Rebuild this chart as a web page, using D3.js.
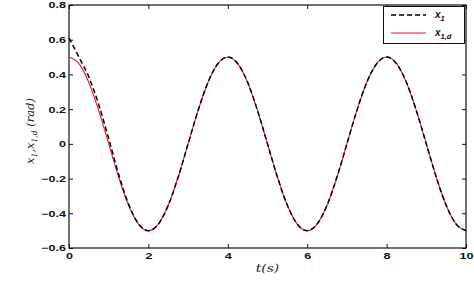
<!DOCTYPE html>
<html>
<head>
<meta charset="utf-8">
<script src="https://cdn.jsdelivr.net/npm/d3@7"></script>
<style>
	body { margin: 0; background: #fff; }
	svg { display: block; }
</style>
</head>
<body>
<div id="chart"></div>
<script>
// time samples (s)
const time = [0, 0.25, 0.5, 0.75, 1, 1.25, 1.5, 1.75, 2, 2.25, 2.5, 2.75, 3, 3.25, 3.5, 3.75,
	4, 4.25, 4.5, 4.75, 5, 5.25, 5.5, 5.75, 6, 6.25, 6.5, 6.75, 7, 7.25, 7.5, 7.75,
	8, 8.25, 8.5, 8.75, 9, 9.25, 9.5, 9.75, 10];
// desired trajectory x_{1,d}
const x1d = [0.5, 0.462, 0.354, 0.191, 0, -0.191, -0.354, -0.462, -0.5, -0.462, -0.354, -0.191, 0, 0.191, 0.354, 0.462,
	0.5, 0.462, 0.354, 0.191, 0, -0.191, -0.354, -0.462, -0.5, -0.462, -0.354, -0.191, 0, 0.191, 0.354, 0.462,
	0.5, 0.462, 0.354, 0.191, 0, -0.191, -0.354, -0.462, -0.5];
// actual state x_1
const x1 = [0.61, 0.5, 0.385, 0.225, 0.03, -0.175, -0.347, -0.46, -0.5, -0.462, -0.354, -0.191, 0, 0.191, 0.354, 0.462,
	0.5, 0.462, 0.354, 0.191, 0, -0.191, -0.354, -0.462, -0.5, -0.462, -0.354, -0.191, 0, 0.191, 0.354, 0.462,
	0.5, 0.462, 0.354, 0.191, 0, -0.191, -0.354, -0.462, -0.5];
const xTicks = [0, 2, 4, 6, 8, 10];
const yTicks = [-0.6, -0.4, -0.2, 0, 0.2, 0.4, 0.6, 0.8];

const width = 474, height = 296;
const margin = {left: 69, right: 8, top: 5, bottom: 48};

const svg = d3.select("#chart").append("svg")
	.attr("width", width)
	.attr("height", height);

const x = d3.scaleLinear().domain([0, 10]).range([margin.left, width - margin.right]);
const y = d3.scaleLinear().domain([-0.6, 0.8]).range([height - margin.bottom, margin.top]);

// stretch tick text horizontally around its anchor, like the source figure
function stretch(sel, ax, sx) {
	sel.selectAll(".tick text")
		.attr("font-family", "'Liberation Sans', Arial, sans-serif")
		.attr("font-weight", "bold")
		.attr("font-size", 9)
		.attr("fill", "#111")
		.attr("transform", `translate(${ax},0) scale(${sx},1) translate(${-ax},0)`);
}

const gx = svg.append("g")
	.attr("transform", `translate(0,${y(-0.6)})`)
	.call(d3.axisBottom(x).tickValues(xTicks).tickSize(-4).tickSizeOuter(0).tickPadding(5).tickFormat(d3.format("d")));
stretch(gx, 0, 1.4);

const gy = svg.append("g")
	.attr("transform", `translate(${x(0)},0)`)
	.call(d3.axisLeft(y).tickValues(yTicks).tickSize(-4).tickSizeOuter(0).tickPadding(3)
		.tickFormat(d => d === 0 ? "0" : d3.format(".1f")(d).replace("-", "\u2212")));
stretch(gy, -3, 1.4);

svg.append("g")
	.attr("transform", `translate(0,${y(0.8)})`)
	.call(d3.axisTop(x).tickValues(xTicks).tickSize(-4).tickSizeOuter(0).tickFormat(""));
svg.append("g")
	.attr("transform", `translate(${x(10)},0)`)
	.call(d3.axisRight(y).tickValues(yTicks).tickSize(-4).tickSizeOuter(0).tickFormat(""));

svg.selectAll(".domain").remove();
svg.selectAll(".tick line").attr("stroke", "#111");

svg.append("rect")
	.attr("x", x(0)).attr("y", y(0.8))
	.attr("width", x(10) - x(0)).attr("height", y(-0.6) - y(0.8))
	.attr("fill", "none").attr("stroke", "#111").attr("stroke-width", 1.2);

const line = d3.line()
	.x((d, i) => x(time[i]))
	.y(d => y(d))
	.curve(d3.curveMonotoneX);

svg.append("path")
	.datum(x1d)
	.attr("d", line)
	.attr("fill", "none")
	.attr("stroke", "#f0142e")
	.attr("stroke-width", 1.1);

svg.append("path")
	.datum(x1)
	.attr("d", line)
	.attr("fill", "none")
	.attr("stroke", "#000")
	.attr("stroke-width", 1.5)
	.attr("stroke-dasharray", "5,3");

// axis labels
svg.append("text")
	.attr("transform", `translate(${x(5)},${272}) scale(1.25,1)`)
	.attr("text-anchor", "middle")
	.attr("font-family", "'DejaVu Serif', serif")
	.attr("font-style", "italic")
	.attr("font-size", 11)
	.attr("fill", "#222")
	.text("t(s)");

const yl = svg.append("text")
	.attr("transform", `translate(34,131) rotate(-90)`)
	.attr("text-anchor", "middle")
	.attr("font-family", "'DejaVu Serif', serif")
	.attr("font-style", "italic")
	.attr("font-size", 11.5)
	.attr("fill", "#222");
yl.append("tspan").text("x");
yl.append("tspan").attr("font-size", 7.5).attr("dy", 3).text("1");
yl.append("tspan").attr("dy", -3).text(",x");
yl.append("tspan").attr("font-size", 7.5).attr("dy", 3).text("1,d");
yl.append("tspan").attr("dy", -3).text("  (rad)");

// legend
const legend = svg.append("g");
legend.append("rect")
	.attr("x", 383.5).attr("y", 6.5).attr("width", 81).attr("height", 37)
	.attr("fill", "#fff").attr("stroke", "#111").attr("stroke-width", 1);

const items = [
	{label: "1", color: "#000", dash: "5,3", w: 1.5},
	{label: "1,d", color: "#f0142e", dash: null, w: 1.1}
];
items.forEach((it, i) => {
	const cy = 15 + i * 18;
	legend.append("line")
		.attr("x1", 391).attr("x2", 426).attr("y1", cy).attr("y2", cy)
		.attr("stroke", it.color).attr("stroke-width", it.w)
		.attr("stroke-dasharray", it.dash);
	const t = legend.append("text")
		.attr("x", 435).attr("y", cy + 3)
		.attr("font-family", "'Liberation Sans', Arial, sans-serif")
		.attr("font-style", "italic")
		.attr("font-weight", "bold")
		.attr("font-size", 10)
		.attr("fill", "#111");
	t.append("tspan").text("x");
	t.append("tspan").attr("font-size", 7.5).attr("dy", 3).text(it.label);
});
</script>
</body>
</html>
